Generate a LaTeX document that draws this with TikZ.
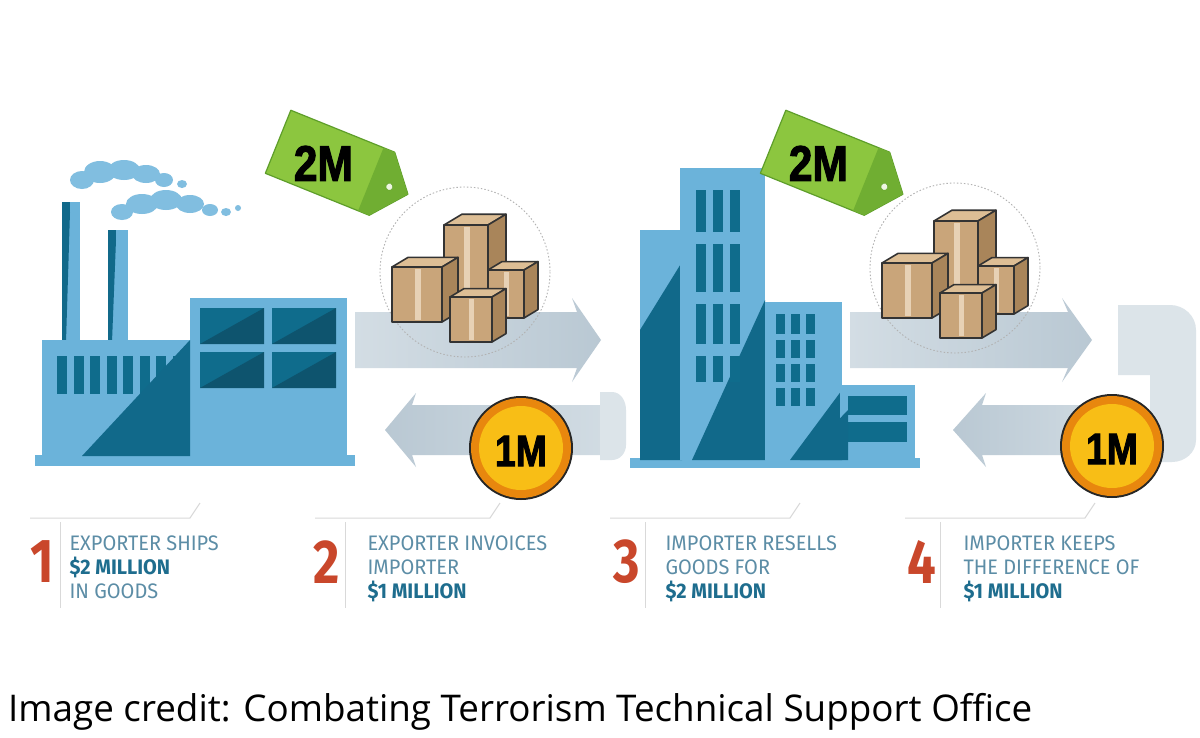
\documentclass[tikz,border=0pt]{standalone}
\usepackage{fontspec}
\setmainfont{Fira Sans}
\newfontfamily\capfont{Open Sans}
\newfontfamily\condfont[FakeStretch=0.95]{Fira Sans}
\newfontfamily\numfont[FakeStretch=0.82]{Fira Sans}
\newfontfamily\heavyfont[FakeStretch=0.85,FakeBold=2]{Liberation Sans}
\usetikzlibrary{shapes.geometric}
\definecolor{lb}{HTML}{6BB3DA}
\definecolor{db}{HTML}{11698A}
\definecolor{wb}{HTML}{0F6C8C}
\definecolor{ag}{HTML}{D3DDE4}
\definecolor{ag2}{HTML}{B9C8D3}
\definecolor{tg}{HTML}{8CC63F}
\definecolor{tgd}{HTML}{5E9E2A}
\definecolor{coin}{HTML}{F8BE16}
\definecolor{coinr}{HTML}{E8870E}
\definecolor{numc}{HTML}{C9472B}
\definecolor{txc}{HTML}{5C8DA6}
\definecolor{txb}{HTML}{1E6D8E}
\definecolor{bx}{HTML}{C9A57A}
\definecolor{bxl}{HTML}{DDBE95}
\definecolor{bxd}{HTML}{A9855A}
\tikzset{
  light/.style={fill=lb,draw=none},
  dark/.style={fill=db,draw=none},
  win/.style={fill=wb,draw=none},
  arr/.style={left color=ag,right color=ag2,draw=none},
  txt/.style={font=\condfont\fontsize{21}{24}\selectfont,text=txc,anchor=north west,align=left},
  num/.style={font=\numfont\bfseries\fontsize{62}{62}\selectfont,text=numc},
  sep/.style={draw=gray!30,line width=1pt},
  pics/box/.style args={#1/#2/#3}{code={
    \path[fill=bx,draw=black!80,line width=1.6pt,line join=round] (0,0) -- (#1,0) -- (#1,-#2) -- (0,-#2) -- cycle;
    \path[fill=bxl,draw=black!80,line width=1.6pt,line join=round] (0,-#2) -- (#3,-#2-0.6*#3) -- (#1+#3,-#2-0.6*#3) -- (#1,-#2) -- cycle;
    \path[fill=bxd,draw=black!80,line width=1.6pt,line join=round] (#1,0) -- (#1+#3,-0.6*#3) -- (#1+#3,-#2-0.6*#3) -- (#1,-#2) -- cycle;
    \path[fill=bxl!70!white,draw=none] (0.45*#1,-2) rectangle (0.58*#1,-#2+2);
  }},
}
\begin{document}
\begin{tikzpicture}[x=1pt,y=-1pt]
\useasboundingbox (0,0) rectangle (1200,737);
\fill[white] (0,0) rectangle (1200,737);

% ---------- arrows ----------
\path[arr] (355,312) -- (577,312) -- (572,298) -- (601,340) -- (572,382) -- (577,368) -- (355,368) -- cycle;
\path[arr,left color=ag2,right color=ag] (620,405) -- (412,405) -- (416,393) -- (385,430) -- (416,467) -- (412,455) -- (620,455) -- cycle;
\path[fill=ag!80!white] (600,392) -- (612,392) to[out=0,in=90] (626,410) -- (626,445) to[out=-90,in=0] (612,460) -- (600,460) -- cycle;
\path[arr] (850,312) -- (1068,312) -- (1062,298) -- (1092,340) -- (1062,382) -- (1068,368) -- (850,368) -- cycle;
\path[arr,left color=ag2,right color=ag] (1125,405) -- (982,405) -- (986,393) -- (953,430) -- (986,467) -- (982,455) -- (1125,455) -- cycle;
\path[fill=ag!80!white] (1118,305) -- (1170,305) to[out=0,in=90] (1196,330) -- (1196,440) to[out=-90,in=0] (1172,462) -- (1150,462) -- (1150,375) -- (1118,375) -- cycle;

% ---------- factory ----------
\path[light] (35,455) rectangle (355,466);
\path[light] (62,202) rectangle (80,342);
\path[dark] (62,202) rectangle (70,212);
\path[dark] (62,212) -- (70,212) -- (66,342) -- (62,342) -- cycle;
\path[light] (108,230) rectangle (128,342);
\path[dark] (108,230) rectangle (116,240);
\path[dark] (108,240) -- (116,240) -- (112,342) -- (108,342) -- cycle;
\path[light] (42,340) rectangle (190,456);
\path[light] (190,298) rectangle (347,456);
\foreach \i in {0,...,7} \path[win] (57+16.5*\i,356) rectangle (67+16.5*\i,394);
\path[dark] (82,456) -- (190,340) -- (190,456) -- cycle;
\foreach \xx/\yy in {200/308,272/308,200/352,272/352}{
  \path[win] (\xx,\yy) rectangle ++(64,36);
  \path[fill=db!80!black] (\xx,\yy+36) -- (\xx+64,\yy) -- (\xx+64,\yy+36) -- cycle;
}
% smoke
\foreach \cx/\cy/\rx/\ry in {82/180/12/9,100/172/16/11,124/170/16/10,146/174/14/9,164/180/9/7,182/184/5/4,
  122/212/11/8,142/204/16/10,166/200/16/10,190/204/14/9,210/210/8/6,226/212/5/4,238/208/3/3}
  \fill[lb!85!white] (\cx,\cy) ellipse [x radius=\rx, y radius=\ry];

% ---------- office ----------
\path[light] (630,458) rectangle (920,468);
\path[light] (640,230) rectangle (682,460);
\path[dark] (640,330) -- (682,262) -- (682,460) -- (640,460) -- cycle;
\path[light] (680,168) rectangle (765,460);
\path[dark] (692,460) -- (765,300) -- (765,460) -- cycle;
\foreach \cx in {696,713,730}{
  \foreach \ya/\yb in {190/232,244/292,304/344,356/382}
   \path[win] (\cx,\ya) rectangle (\cx+10,\yb);
}
\path[light] (765,302) rectangle (842,460);
\foreach \cx in {776,791,806}{
  \foreach \ya/\yb in {314/334,340/358,364/382,388/406}
   \path[win] (\cx,\ya) rectangle (\cx+9,\yb);
}
\path[dark] (790,460) -- (842,390) -- (842,460) -- cycle;
\path[light] (840,385) rectangle (915,460);
\path[win] (848,396) rectangle (907,415);
\path[win] (848,422) rectangle (907,442);
\path[dark] (800,460) -- (848,410) -- (848,460) -- cycle;

% ---------- circles & boxes ----------
\foreach \cx/\cy in {465/272,955/268}{
  \draw[gray!60,dashed,dash pattern=on 1.5pt off 2pt,line width=0.9pt] (\cx,\cy) circle (85);
  \begin{scope}[shift={(\cx-465,\cy-272)}]
    \pic at (444,300) {box={44/75/18}};
    \pic at (488,318) {box={36/48/14}};
    \pic at (392,322) {box={50/55/16}};
    \pic at (450,342) {box={42/45/14}};
  \end{scope}
}

% ---------- tags ----------
\foreach \cx/\cy/\nm in {343/168/tagA,838/168/tagB}{
  \begin{scope}[shift={(\cx,\cy)},rotate=-22]
    \path[fill=tg,draw=tgd,line width=1.2pt,line join=round] (-70,-34) -- (42,-34) -- (70,0) -- (42,34) -- (-70,34) -- cycle;
    \path[fill=tgd!60!tg] (30,-34) -- (42,-34) -- (70,0) -- (42,34) -- (30,34) -- cycle;
    \fill[white!85!tg,draw=tgd] (50,0) circle (3.5);
    \node[font=\heavyfont\bfseries\fontsize{50}{50}\selectfont,inner sep=0pt] (\nm) at (-20,3) {2M};
  \end{scope}
}

% ---------- coins ----------
\foreach \cx/\cy/\nm in {521/448/coinA,1112/446/coinB}{
  \fill[black!85] (\cx,\cy) circle (52);
  \fill[coinr] (\cx,\cy) circle (50);
  \fill[coin] (\cx,\cy) circle (42);
  \node[font=\heavyfont\bfseries\fontsize{44}{44}\selectfont,inner sep=0pt] (\nm) at (\cx,\cy+3) {1M};
}

% ---------- labels ----------
\foreach \xa/\xb in {30/190,315/490,610/790,905/1085}{
  \draw[sep] (\xa,518) -- (\xb,518) -- (\xb+10,503);
}
\foreach \xx/\n in {30/1,315/2,615/3,910/4}{
  \node[num,anchor=center] at (\xx+12,562) {\n};
  \draw[sep] (\xx+30,522) -- (\xx+30,608);
}
\node[txt] (t1) at (66,532) {EXPORTER SHIPS\\\textcolor{txb}{\bfseries \$2 MILLION}\\IN GOODS};
\node[txt] (t2) at (364,532) {EXPORTER INVOICES\\IMPORTER\\\textcolor{txb}{\bfseries \$1 MILLION}};
\node[txt] (t3) at (662,532) {IMPORTER RESELLS\\GOODS FOR\\\textcolor{txb}{\bfseries \$2 MILLION}};
\node[txt] (t4) at (960,532) {IMPORTER KEEPS\\THE DIFFERENCE OF\\\textcolor{txb}{\bfseries \$1 MILLION}};

\node[font=\capfont\fontsize{36.8}{40}\selectfont,anchor=west,inner sep=0pt] (cap) at (8,712) {Image credit: Combating Terrorism Technical Support Office};
\end{tikzpicture}
\end{document}
